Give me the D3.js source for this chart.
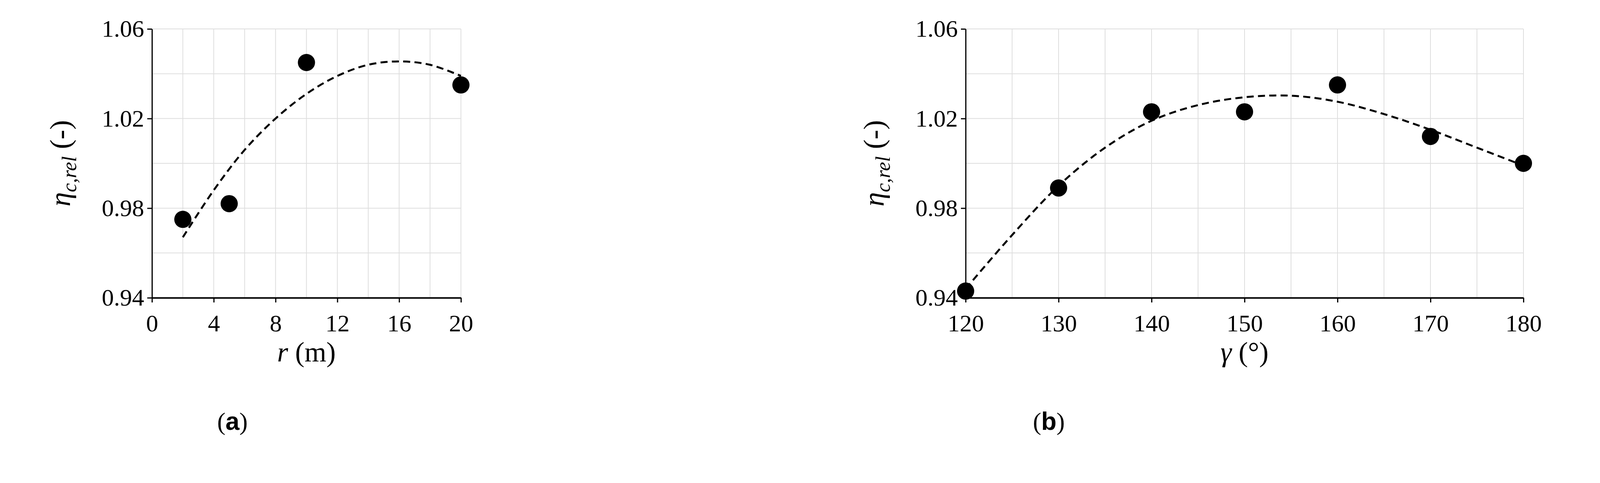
<!DOCTYPE html>
<html><head><meta charset="utf-8">
<script src="https://cdn.jsdelivr.net/npm/d3@7"></script>
<style>body{margin:0;background:#fff}text{font-family:"Liberation Serif",serif;fill:#000}</style>
</head><body><svg id="c" width="4148" height="1236"></svg>
<script>
// panel (a)
const rX = [2, 5, 10, 20];
const rY = [0.975, 0.982, 1.045, 1.035];
const rTrendX = [2, 4, 6, 8, 10, 12, 14, 16, 18, 20];
const rTrendY = [0.967, 0.988, 1.006, 1.020, 1.031, 1.039, 1.044, 1.0455, 1.044, 1.039];
const rTicks = [0, 4, 8, 12, 16, 20];
// panel (b)
const gX = [120, 130, 140, 150, 160, 170, 180];
const gY = [0.943, 0.989, 1.023, 1.023, 1.035, 1.012, 1.000];
const gTrendX = [120, 125, 130, 135, 140, 145, 150, 155, 160, 165, 170, 175, 180];
const gTrendY = [0.944, 0.968, 0.990, 1.007, 1.019, 1.026, 1.0295, 1.0302, 1.0275, 1.022, 1.015, 1.007, 0.999];
const gTicks = [120, 130, 140, 150, 160, 170, 180];
const yTicks = [0.94, 0.98, 1.02, 1.06];

const svg = d3.select("#c");

function panel(o){
  const g = svg.append("g");
  const x = d3.scaleLinear().domain(o.xdom).range([o.left, o.right]);
  const y = d3.scaleLinear().domain([0.94, 1.06]).range([762, 74]);
  // grid
  g.selectAll(".vg").data(d3.range(o.xdom[0], o.xdom[1] + 1e-9, o.minor)).join("line")
    .attr("x1", d => x(d)).attr("x2", d => x(d)).attr("y1", y(1.06)).attr("y2", y(0.94))
    .attr("stroke", "#dedede").attr("stroke-width", 2);
  g.selectAll(".hg").data(d3.range(0.96, 1.0601, 0.02)).join("line")
    .attr("x1", o.left).attr("x2", o.right).attr("y1", d => y(d)).attr("y2", d => y(d))
    .attr("stroke", "#dedede").attr("stroke-width", 2);
  // axes
  const xa = g.append("g").attr("transform", `translate(0,${y(0.94)})`)
    .call(d3.axisBottom(x).tickValues(o.ticks).tickSize(12).tickSizeOuter(0).tickFormat(d3.format("d")));
  xa.select(".domain").attr("stroke", "#000").attr("stroke-width", 4);
  xa.selectAll("line").attr("stroke-width", 3);
  xa.selectAll("text").attr("font-size", 62).attr("dy", "1.15em").attr("font-family", "Liberation Serif");
  const ya = g.append("g").attr("transform", `translate(${o.left},0)`)
    .call(d3.axisLeft(y).tickValues(yTicks).tickSize(12).tickSizeOuter(0).tickFormat(d3.format(".2f")));
  ya.select(".domain").attr("stroke", "#000").attr("stroke-width", 3);
  ya.selectAll("line").attr("stroke-width", 3);
  ya.selectAll("text").attr("font-size", 62).attr("x", -20).attr("font-family", "Liberation Serif");
  // trend
  g.append("path").datum(o.tx.map((d, i) => [d, o.ty[i]]))
    .attr("d", d3.line().x(d => x(d[0])).y(d => y(d[1])).curve(d3.curveCatmullRom))
    .attr("fill", "none").attr("stroke", "#000").attr("stroke-width", 5).attr("stroke-dasharray", "18,11");
  // points
  g.selectAll("circle").data(o.px.map((d, i) => [d, o.py[i]])).join("circle")
    .attr("cx", d => x(d[0])).attr("cy", d => y(d[1])).attr("r", 22).attr("fill", "#000");
  // labels
  const yl = g.append("text").attr("transform", `translate(${o.left - 210},${y(1.0)}) rotate(-90)`)
    .attr("text-anchor", "middle").attr("font-size", 74);
  yl.append("tspan").attr("font-style", "italic").text("η");
  yl.append("tspan").attr("font-style", "italic").attr("font-size", 52).attr("dy", 16).text("c,rel");
  yl.append("tspan").attr("dy", -16).text(" (-)");
  const xl = g.append("text").attr("x", (o.left + o.right) / 2).attr("y", 925)
    .attr("text-anchor", "middle").attr("font-size", 72);
  xl.append("tspan").attr("font-style", "italic").text(o.xvar);
  xl.append("tspan").text(o.xunit);
  const cap = g.append("text").attr("x", o.capX).attr("y", 1100).attr("text-anchor", "middle").attr("font-size", 64);
  cap.append("tspan").text("(");
  cap.append("tspan").attr("font-weight", "bold").attr("font-family", "Liberation Sans").text(o.cap);
  cap.append("tspan").text(")");
}

panel({xdom: [0, 20], minor: 2, left: 389, right: 1180, ticks: rTicks, tx: rTrendX, ty: rTrendY,
  px: rX, py: rY, xvar: "r", xunit: " (m)", cap: "a", capX: 595});
panel({xdom: [120, 180], minor: 5, left: 2472, right: 3900, ticks: gTicks, tx: gTrendX, ty: gTrendY,
  px: gX, py: gY, xvar: "γ", xunit: " (°)", cap: "b", capX: 2685});
</script></body></html>
